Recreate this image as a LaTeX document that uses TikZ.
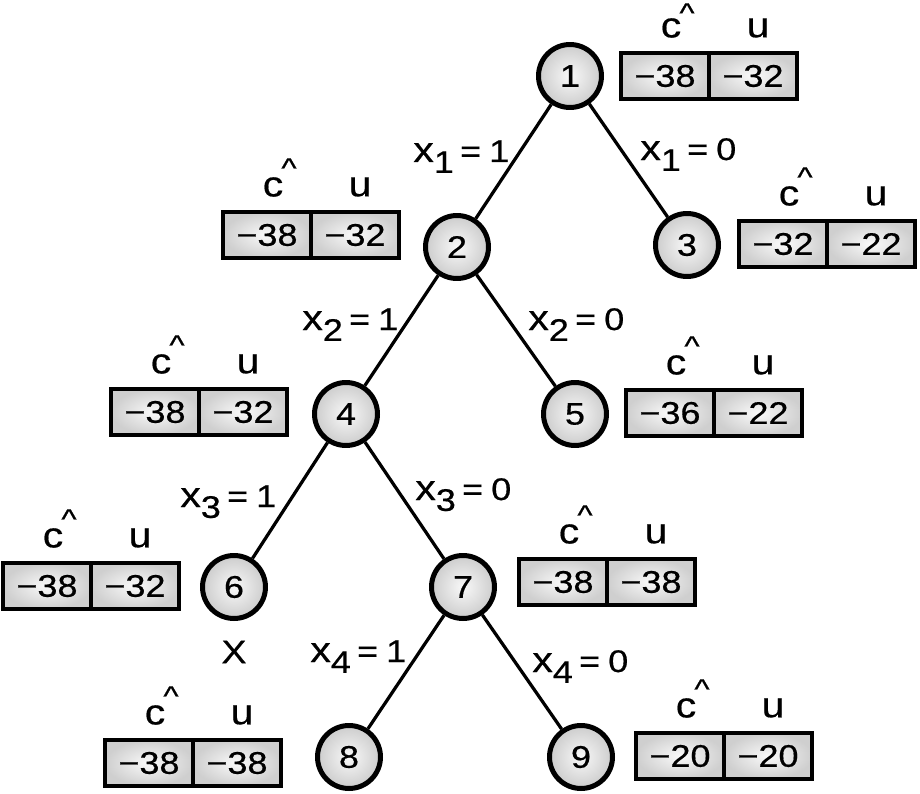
\documentclass[tikz,border=0pt]{standalone}
\usepackage{fontspec}
\setmainfont[FakeStretch=1.15,FakeBold=0.5]{Liberation Sans}
\newcommand\numfont{\fontsize{17.8}{19}\selectfont}
\newcommand\bigfont{\fontsize{20.3}{22}\selectfont}
\newcommand\hatfont{\fontsize{16}{17}\selectfont}
\newcommand\xlab[2]{{\bigfont x}\raisebox{-6.2pt}{\numfont #1}\numfont\kern3.6pt=\kern4.6pt#2}
\tikzset{
  tnode/.style={circle, draw, shade, line width=0.1cm, minimum size=1.26cm, inner sep=0pt,
    inner color=gray!5, outer color=gray!40, font=\numfont},
  conn/.style={line width=0.065cm},
  half/.style={rectangle, draw, shade, line width=0.08cm, minimum width=1.76cm, minimum height=0.92cm,
    inner sep=0pt, outer sep=0pt, inner color=gray!4, outer color=gray!38, font=\numfont},
  lab/.style={font=\bigfont, inner sep=0pt},
  hat/.style={font=\hatfont, inner sep=0pt},
  elab/.style={inner sep=0pt, anchor=base west},
}
\newcommand\cubox[6][42]{%
  \node[half] (#2l) at (#3+46,#4+25) {−#5};
  \node[half] (#2r) at (#3+134,#4+25) {−#6};
  \node[lab] (#2c) at (#3+52,#4-23) {c};
  \node[hat] (#2h) at (#3+68,#4-#1) {\textasciicircum};
  \node[lab] (#2u) at (#3+139,#4-23) {u};
}
\begin{document}
\begin{tikzpicture}[x=0.02cm,y=-0.02cm]
\useasboundingbox[fill=white] (0,0) rectangle (920,794);
% tree nodes
\node[tnode] (n1) at (570,76) {1};
\node[tnode] (n2) at (457,247) {2};
\node[tnode] (n3) at (687,245) {3};
\node[tnode] (n4) at (346,414) {4};
\node[tnode] (n5) at (575,414) {5};
\node[tnode] (n6) at (234,587) {6};
\node[tnode] (n7) at (463,587) {7};
\node[tnode] (n8) at (349,757) {8};
\node[tnode] (n9) at (581,757) {9};
% connectors
\draw[conn] (n1) -- (n2);
\draw[conn] (n1) -- (n3);
\draw[conn] (n2) -- (n4);
\draw[conn] (n2) -- (n5);
\draw[conn] (n4) -- (n6);
\draw[conn] (n4) -- (n7);
\draw[conn] (n7) -- (n8);
\draw[conn] (n7) -- (n9);
% edge labels
\node[elab] (e12) at (413,162) {\xlab{1}{1}};
\node[elab] (e13) at (640,160) {\xlab{1}{0}};
\node[elab] (e24) at (302,330) {\xlab{2}{1}};
\node[elab] (e25) at (528,330) {\xlab{2}{0}};
\node[elab] (e46) at (180,507) {\xlab{3}{1}};
\node[elab] (e47) at (415,500) {\xlab{3}{0}};
\node[elab] (e78) at (310,662) {\xlab{4}{1}};
\node[elab] (e79) at (532,672) {\xlab{4}{0}};
% X mark
\node[inner sep=0pt, font=\fontsize{18.5}{20}\selectfont] (xmark) at (234,652) {X};
% value boxes
\cubox[38]{b1}{619}{51}{38}{32}
\cubox{b2}{221}{210}{38}{32}
\cubox{b3}{737}{219}{32}{22}
\cubox{b4}{109}{387}{38}{32}
\cubox{b5}{624}{388}{36}{22}
\cubox{b6}{1}{561}{38}{32}
\cubox{b7}{517}{557}{38}{38}
\cubox{b8}{103}{738}{38}{38}
\cubox{b9}{634}{731}{20}{20}
\end{tikzpicture}
\end{document}
